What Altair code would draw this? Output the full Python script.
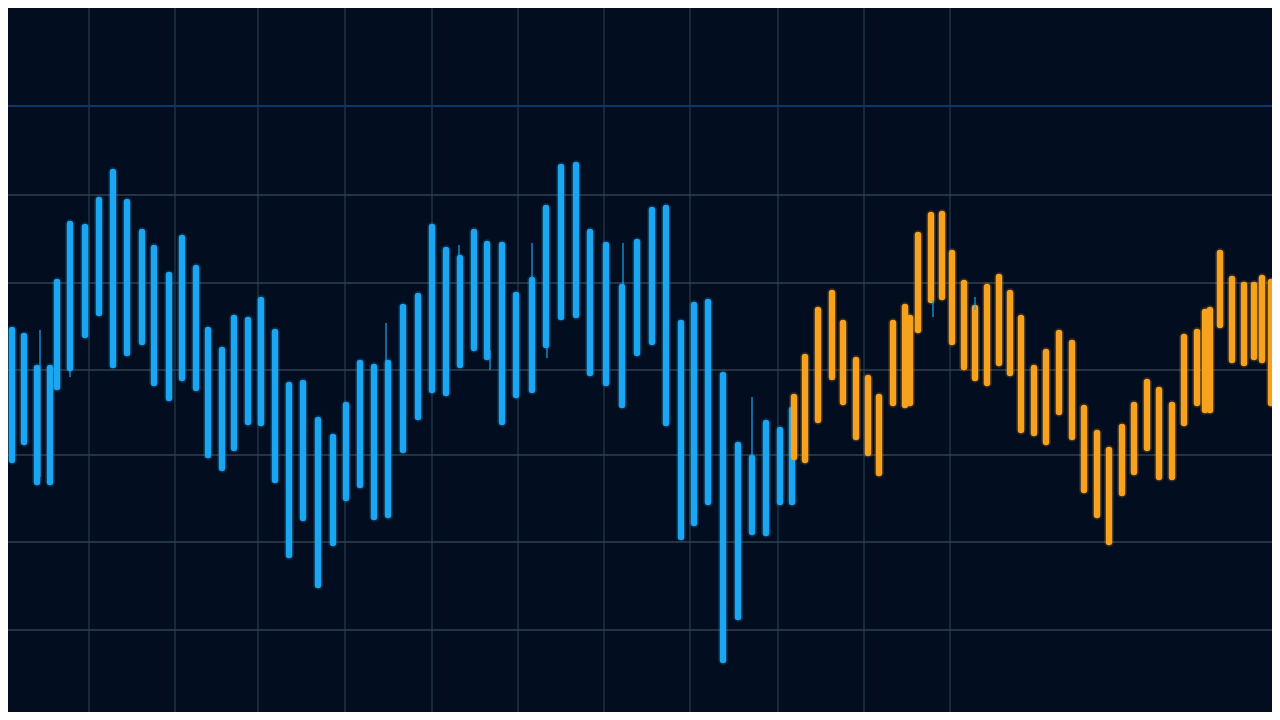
import altair as alt
import pandas as pd

# ---- data ----
blue_t = [1, 12, 24, 37, 50, 57, 70, 85, 99, 113, 127, 142, 154, 169, 182, 196, 208, 222, 234, 248, 261, 275,
          289, 303, 318, 333, 346, 360, 374, 388, 403, 418, 432, 446, 460, 474, 487, 502, 516, 532, 546,
          561, 576, 590, 606, 622, 637, 652, 666, 681, 694, 708, 723, 738, 752, 766, 780, 792]
blue_high = [43.8, 39.0, 38.4, 35.2, 35.2, 43.8, 49.6, 49.3, 52.0, 54.8, 51.8, 48.8, 47.2, 44.5, 48.2, 45.2, 39.0, 37.0, 40.2, 40.0, 42.0, 38.8,
             33.5, 33.7, 30.0, 28.3, 31.5, 35.7, 35.3, 35.7, 41.3, 42.4, 49.3, 47.0, 46.2, 48.8, 47.6, 47.5, 42.5, 44.0, 51.2,
             55.3, 55.5, 48.8, 47.5, 43.3, 47.8, 51.0, 51.2, 39.7, 41.5, 41.8, 34.5, 27.5, 26.2, 29.7, 29.0, 31.0]
blue_low = [29.0, 26.0, 27.8, 23.8, 23.8, 33.3, 35.2, 38.5, 40.7, 35.5, 36.7, 37.8, 33.7, 32.2, 34.2, 33.2, 26.5, 25.2, 27.2, 29.8, 29.7, 24.0,
            16.5, 20.2, 13.5, 17.7, 22.2, 23.5, 20.3, 20.5, 27.0, 30.3, 33.0, 32.7, 35.5, 37.2, 36.3, 29.8, 32.5, 33.0, 37.5,
            40.3, 40.5, 34.7, 33.7, 31.5, 36.7, 37.8, 29.7, 18.3, 19.7, 21.8, 6.0, 10.3, 18.8, 18.7, 21.8, 21.8]

orange_t = [794, 805, 818, 832, 843, 856, 868, 879, 893, 905, 910, 918, 931, 942, 952, 964, 975, 987, 999, 1010, 1021,
            1034, 1046, 1059, 1072, 1084, 1097, 1109, 1122, 1134, 1147, 1159, 1172, 1184, 1197, 1205, 1210, 1220,
            1232, 1244, 1254, 1262, 1271, 1278]
orange_high = [32.3, 36.3, 41.0, 42.7, 39.7, 36.0, 34.2, 32.3, 39.7, 41.3, 40.2, 48.5, 50.5, 50.6, 46.7, 43.7, 41.2, 43.3, 44.3, 42.7, 40.2,
               35.2, 36.8, 38.7, 37.7, 31.2, 28.7, 27.0, 29.3, 31.5, 33.8, 33.0, 31.5, 38.3, 38.8, 40.8, 41.0, 46.7,
               44.1, 43.5, 43.5, 44.2, 43.8, 39.0]
orange_low = [26.3, 26.0, 30.0, 34.3, 31.8, 28.3, 26.7, 24.7, 31.7, 31.5, 31.7, 39.0, 42.0, 42.3, 37.8, 35.3, 34.2, 33.7, 35.7, 34.7, 29.0,
              28.7, 27.8, 30.8, 28.3, 23.0, 20.5, 17.8, 22.7, 24.8, 27.2, 24.3, 24.3, 29.7, 31.7, 31.0, 31.0, 39.5,
              36.0, 35.7, 36.3, 36.0, 31.7, 31.7]

wick_t = [40, 70, 386, 459, 490, 532, 547, 623, 752, 933, 975]
wick_high = [39.0, 36.0, 39.7, 47.5, 37.0, 47.7, 37.7, 47.7, 32.3, 42.0, 42.3]
wick_low = [24.3, 34.3, 35.7, 46.0, 35.0, 44.0, 36.2, 43.3, 26.2, 40.3, 41.0]

grid_t = [3, 89, 175, 258, 345, 432, 518, 604, 690, 778, 864, 950]
grid_top_level = [61.4]
grid_levels = [52.5, 43.7, 35.0, 26.5, 17.8, 9.0]

BG = "#020d1f"
BLUE = "#1ba6f2"
ORANGE = "#f7a21e"

candles = pd.concat([
    pd.DataFrame({"t": blue_t, "high": blue_high, "low": blue_low, "side": "blue"}),
    pd.DataFrame({"t": orange_t, "high": orange_high, "low": orange_low, "side": "orange"}),
], ignore_index=True)
wicks = pd.DataFrame({"t": wick_t, "high": wick_high, "low": wick_low})

xs = alt.Scale(domain=[8, 1272], nice=False, zero=False)
ys = alt.Scale(domain=[0.8, 71.2], nice=False, zero=False)
color = alt.Scale(domain=["blue", "orange"], range=[BLUE, ORANGE])

vgrid = alt.Chart(pd.DataFrame({"t": grid_t})).mark_rule(
    color="#25354a", strokeWidth=1.5, opacity=0.9, clip=True
).encode(x=alt.X("t:Q", scale=xs, axis=None))

hgrid_top = alt.Chart(pd.DataFrame({"p": grid_top_level})).mark_rule(
    color="#0f3766", strokeWidth=2, clip=True
).encode(y=alt.Y("p:Q", scale=ys, axis=None))

hgrid = alt.Chart(pd.DataFrame({"p": grid_levels})).mark_rule(
    color="#313f4e", strokeWidth=1.5, clip=True
).encode(y=alt.Y("p:Q", scale=ys, axis=None))

glow = alt.Chart(candles).mark_rule(strokeWidth=10, strokeCap="round", opacity=0.16, clip=True).encode(
    x=alt.X("t:Q", scale=xs, axis=None),
    y=alt.Y("low:Q", scale=ys, axis=None),
    y2="high:Q",
    color=alt.Color("side:N", scale=color, legend=None),
)

bars = alt.Chart(candles).mark_rule(strokeWidth=6.5, strokeCap="round", clip=True).encode(
    x=alt.X("t:Q", scale=xs, axis=None),
    y=alt.Y("low:Q", scale=ys, axis=None),
    y2="high:Q",
    color=alt.Color("side:N", scale=color, legend=None),
)

wick_layer = alt.Chart(wicks).mark_rule(strokeWidth=1.5, color=BLUE, opacity=0.8, clip=True).encode(
    x=alt.X("t:Q", scale=xs, axis=None),
    y=alt.Y("low:Q", scale=ys, axis=None),
    y2="high:Q",
)

chart = alt.layer(vgrid, hgrid_top, hgrid, glow, bars, wick_layer).properties(
    width=1264,
    height=704,
    padding=0,
    background=BG,
    autosize=alt.AutoSizeParams(type="fit", contains="padding"),
).configure_view(stroke=None, fill=BG)

chart.save("out.html", embed_options={"renderer": "svg", "actions": False})
